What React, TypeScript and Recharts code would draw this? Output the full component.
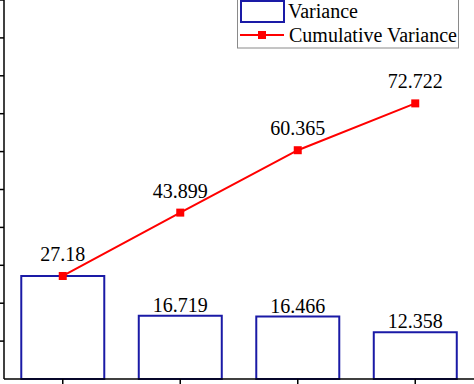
import React from 'react';
import { ComposedChart, Bar, Line, XAxis, YAxis, LabelList } from 'recharts';

const categories = ['PC1', 'PC2', 'PC3', 'PC4'];
const variance = [27.18, 16.719, 16.466, 12.358];
const cumulative = [27.18, 43.899, 60.365, 72.722];
const yTicks = [0, 10, 20, 30, 40, 50, 60, 70, 80, 90, 100];

const BLUE = '#1a1aa6';
const RED = '#ff0000';
const FONT = '"Liberation Serif", "Times New Roman", serif';

const data = categories.map((name, i) => ({
  name,
  variance: variance[i],
  cumulative: cumulative[i],
}));

const SquareDot = (props: any) => {
  const { cx, cy } = props;
  if (cx == null || cy == null) return null;
  return <rect x={cx - 4} y={cy - 4} width={8} height={8} fill={RED} />;
};

// no tick text, only the tick marks
const NoTickText = () => <g />;

// first bar label is hidden, the line label sits in the same place
const BarLabel = (props: any) => {
  const { x, y, width, value, index } = props;
  if (index === 0) return null;
  return (
    <text x={x + width / 2} y={y - 4} textAnchor="middle" fill="#000" fontSize={20} fontFamily={FONT}>
      {value}
    </text>
  );
};

const LegendBox = () => (
  <svg width={474} height={384} style={{ position: 'absolute', left: 0, top: 0, pointerEvents: 'none' }}>
    <rect x={237.5} y={-5} width={221} height={53} fill="#fff" stroke="#8a8a8a" strokeWidth={1} />
    <rect x={241} y={1} width={43} height={21} fill="#fff" stroke={BLUE} strokeWidth={2} />
    <text x={288} y={18} fontSize={20} fontFamily={FONT} fill="#000">Variance</text>
    <line x1={240} x2={284} y1={35} y2={35} stroke={RED} strokeWidth={2} />
    <rect x={258} y={31} width={8} height={8} fill={RED} />
    <text x={289} y={42} fontSize={20} fontFamily={FONT} fill="#000">Cumulative Variance</text>
  </svg>
);

export default function App() {
  return (
    <div style={{ position: 'absolute', left: 0, top: 0, width: 474, height: 384, background: '#fff' }}>
      <ComposedChart
        width={474}
        height={384}
        data={data}
        margin={{ top: 0, right: 0, bottom: 0, left: 0 }}
        barCategoryGap="14.7%"
      >
        <XAxis
          dataKey="name"
          tick={<NoTickText />}
          tickSize={5}
          height={5}
          axisLine={{ stroke: '#000', strokeWidth: 1.5 }}
          tickLine={{ stroke: '#000', strokeWidth: 1.5 }}
        />
        <YAxis
          domain={[0, 100]}
          ticks={yTicks}
          tick={<NoTickText />}
          tickSize={4}
          width={4}
          axisLine={{ stroke: '#000', strokeWidth: 1.5 }}
          tickLine={{ stroke: '#000', strokeWidth: 1.5 }}
        />
        <Bar dataKey="variance" fill="#fff" stroke={BLUE} strokeWidth={2} isAnimationActive={false}>
          <LabelList dataKey="variance" content={BarLabel} />
        </Bar>
        <Line
          dataKey="cumulative"
          stroke={RED}
          strokeWidth={2}
          dot={<SquareDot />}
          activeDot={false}
          isAnimationActive={false}
        >
          <LabelList dataKey="cumulative" position="top" offset={15} fill="#000" fontSize={20} fontFamily={FONT} />
        </Line>
      </ComposedChart>
      <LegendBox />
    </div>
  );
}
